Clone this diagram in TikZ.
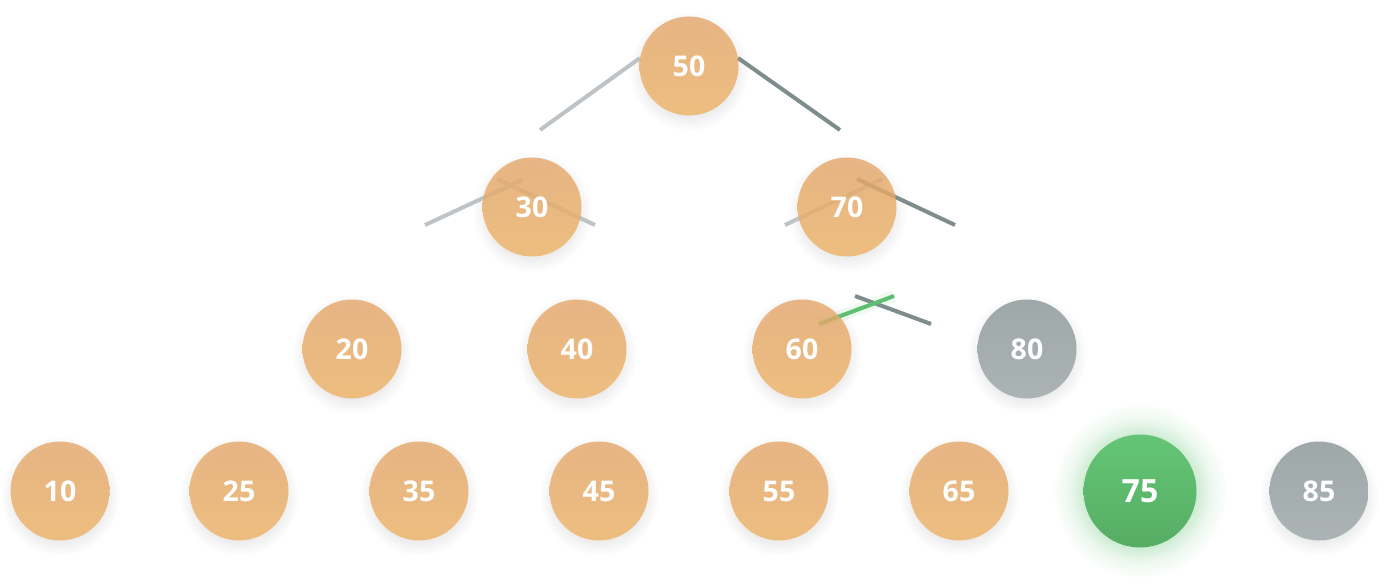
\documentclass[tikz,border=0pt]{standalone}
\usepackage{fontspec}
\setsansfont{Open Sans}
\definecolor{ot}{HTML}{E4A669}
\definecolor{ob}{HTML}{EEB264}
\definecolor{gt}{HTML}{9FA8A9}
\definecolor{gb}{HTML}{ABB3B4}
\definecolor{grt}{HTML}{64C576}
\definecolor{grb}{HTML}{56AD64}
\definecolor{lgray}{HTML}{BDC3C7}
\definecolor{dgray}{HTML}{7F8C8D}
\definecolor{lgreen}{HTML}{5CC070}
\pgfdeclareradialshading{nshadow}{\pgfpoint{0cm}{0cm}}{color(0bp)=(black!7); color(19bp)=(black!7); color(25bp)=(white); color(50bp)=(white)}
\pgfdeclareradialshading{gglow}{\pgfpoint{0cm}{0cm}}{color(0bp)=(lgreen!35!white); color(16bp)=(lgreen!30!white); color(20bp)=(lgreen!12!white); color(25bp)=(white); color(50bp)=(white)}
\tikzset{
  nd/.style={circle, minimum size=99pt, inner sep=0pt, text=white, text opacity=1,
    font=\sffamily\bfseries\fontsize{28.5}{28.5}\selectfont, shading=axis, shading angle=-45},
  orng/.style={nd, top color=ot, bottom color=ob, fill opacity=0.8},
  grey/.style={nd, top color=gt, bottom color=gb},
  hot/.style={nd, minimum size=113pt, top color=grt, bottom color=grb, font=\sffamily\bfseries\fontsize{32}{32}\selectfont},
  ln/.style={line width=4pt},
  lnl/.style={ln, draw=lgray},
  lnd/.style={ln, draw=dgray},
  lng/.style={ln, draw=lgreen},
}
\begin{document}
\begin{tikzpicture}[x=1pt,y=-1pt]
\useasboundingbox (0,0) rectangle (1397,586);
% positions
\coordinate (p50) at (689,66);
\coordinate (p30) at (532,207);
\coordinate (p70) at (847,207);
\coordinate (p20) at (352,349);
\coordinate (p40) at (577,349);
\coordinate (p60) at (802,349);
\coordinate (p80) at (1027,349);
\coordinate (p10) at (60,491);
\coordinate (p25) at (239,491);
\coordinate (p35) at (419,491);
\coordinate (p45) at (599,491);
\coordinate (p55) at (779,491);
\coordinate (p65) at (959,491);
\coordinate (p75) at (1140,491);
\coordinate (p85) at (1319,491);
% shadows
\foreach \p in {p50,p30,p70,p20,p40,p60,p80,p10,p25,p35,p45,p55,p65,p85}{
  \shade[shading=nshadow] ([yshift=-5pt]\p) circle (60pt);
}
\shade[shading=gglow] (p75) circle (88pt);
% line end points
\coordinate (a1s) at (640,58); \coordinate (a1e) at (540,130);
\coordinate (a2s) at (738,58); \coordinate (a2e) at (840,130);
\coordinate (b1s) at (425,225); \coordinate (b1e) at (522,180);
\coordinate (b2s) at (497,179); \coordinate (b2e) at (595,225);
\coordinate (c1s) at (785,225); \coordinate (c1e) at (882,179);
\coordinate (c2s) at (857,179); \coordinate (c2e) at (955,225);
\coordinate (d1s) at (855,296); \coordinate (d1e) at (931,324);
\coordinate (d2s) at (819,324); \coordinate (d2e) at (894,296);
% lines
\draw[lnl] (a1s) -- (a1e);
\draw[lnd] (a2s) -- (a2e);
\draw[lnl] (b1s) -- (b1e);
\draw[lnl] (b2s) -- (b2e);
\draw[lnl] (c1s) -- (c1e);
\draw[lnd] (c2s) -- (c2e);
\draw[lnd] (d1s) -- (d1e);
\draw[draw=lgreen, line width=12pt, opacity=0.1] (d2s) -- (d2e);
\draw[lng] (d2s) -- (d2e);
% nodes
\node[orng] (n50) at (p50) {50};
\node[orng] (n30) at (p30) {30};
\node[orng] (n70) at (p70) {70};
\node[orng] (n20) at (p20) {20};
\node[orng] (n40) at (p40) {40};
\node[orng] (n60) at (p60) {60};
\node[grey] (n80) at (p80) {80};
\node[orng] (n10) at (p10) {10};
\node[orng] (n25) at (p25) {25};
\node[orng] (n35) at (p35) {35};
\node[orng] (n45) at (p45) {45};
\node[orng] (n55) at (p55) {55};
\node[orng] (n65) at (p65) {65};
\node[hot] (n75) at (p75) {75};
\node[grey] (n85) at (p85) {85};
\end{tikzpicture}
\end{document}
